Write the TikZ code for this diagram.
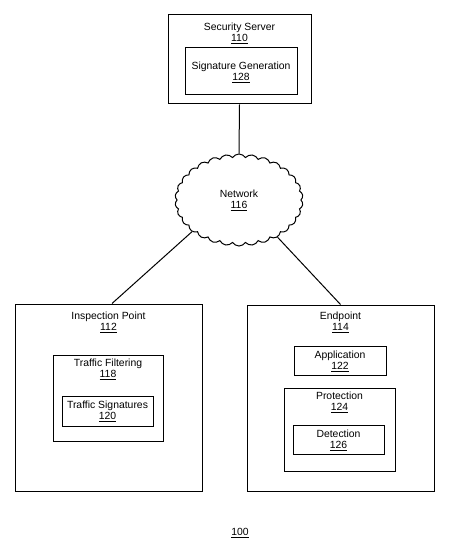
\documentclass[tikz,border=0pt]{standalone}
\usepackage{fontspec}
\setmainfont{Liberation Sans}
\usetikzlibrary{shapes.symbols}
\begin{document}
\begin{tikzpicture}[x=1pt,y=-1pt,
  box/.style={draw,line width=1pt,inner sep=0pt,rectangle},
  lbl/.style={inner sep=0pt,align=center,font=\fontsize{10.4}{11.2}\selectfont},
  link/.style={line width=1pt}]
\useasboundingbox (0,0) rectangle (474,545);
% Security server
\node[box,minimum width=143pt,minimum height=89pt] (ss) at (239.5,59.5) {};
\node[lbl] (sst) at (239.5,33.5) {Security Server\\\underline{110}};
\node[box,minimum width=112pt,minimum height=47pt] (sg) at (241,71.5) {};
\node[lbl] (sgt) at (241,72) {Signature Generation\\\underline{128}};
% Network
\node[cloud,draw,line width=1pt,cloud puffs=30,cloud puff arc=115,aspect=1.4,
  minimum width=128pt,minimum height=92pt,inner sep=0pt] (net) at (239,200) {};
\node[lbl] (nett) at (239,200.5) {Network\\\underline{116}};
% Inspection point
\node[box,minimum width=187pt,minimum height=187pt] (ip) at (108.5,397.5) {};
\node[lbl] (ipt) at (108.5,322.5) {Inspection Point\\\underline{112}};
\node[box,minimum width=110pt,minimum height=86pt] (tf) at (108,398) {};
\node[lbl] (tft) at (108,369.5) {Traffic Filtering\\\underline{118}};
\node[box,minimum width=91pt,minimum height=30pt] (ts) at (107.5,411) {};
\node[lbl] (tst) at (107.5,411) {Traffic Signatures\\\underline{120}};
% Endpoint
\node[box,minimum width=187pt,minimum height=186pt] (ep) at (340.5,398) {};
\node[lbl] (ept) at (340.5,322.5) {Endpoint\\\underline{114}};
\node[box,minimum width=92pt,minimum height=29pt] (app) at (340,360.5) {};
\node[lbl] (appt) at (340,361) {Application\\\underline{122}};
\node[box,minimum width=111pt,minimum height=83pt] (prot) at (339.5,429.5) {};
\node[lbl] (prott) at (339.5,402) {Protection\\\underline{124}};
\node[box,minimum width=91pt,minimum height=29pt] (det) at (338.5,439.5) {};
\node[lbl] (dett) at (338.5,440) {Detection\\\underline{126}};
% Figure number
\node[lbl] (fig) at (240,533) {\underline{100}};
% Connectors
\draw[link] (ss.south) -- (net.north);
\draw[link] (net.214) -- ([xshift=3.5pt]ip.north);
\draw[link] (net.316) -- (ep.north);
\end{tikzpicture}
\end{document}
